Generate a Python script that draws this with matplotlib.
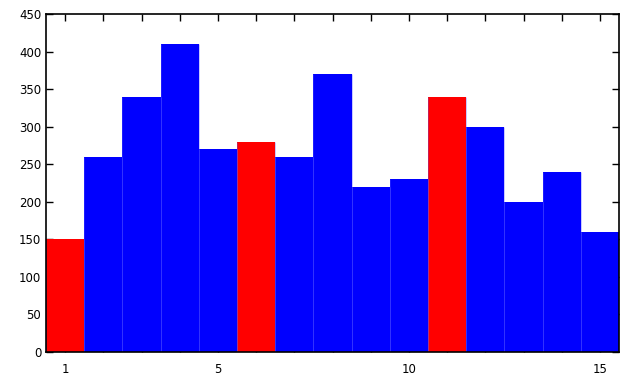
import matplotlib
matplotlib.use("Agg")
import matplotlib.pyplot as plt

categories = list(range(1, 16))
values = [150, 260, 340, 410, 270, 280, 260, 370, 220, 230, 340, 300, 200, 240, 160]
highlight = [1, 6, 11]
xtick_labels = [1, 5, 10, 15]
yticks = list(range(0, 451, 50))

colors = ["#ff0000" if c in highlight else "#0000ff" for c in categories]

fig = plt.figure(figsize=(6.4, 3.84), dpi=100)
ax = fig.add_axes([46/640, 1 - 352/384, (619-46)/640, (352-14)/384])
ax.set_axisbelow(True)
ax.bar(categories, values, width=1.0, color=colors, edgecolor=colors, linewidth=0)
for c, v in zip(categories, values):
    ax.vlines([c - 0.5, c + 0.5], 0, v, colors="#5a5aff", linewidth=0.4, alpha=0.6)
ax.set_xlim(0.5, 15.5)
ax.set_ylim(0, 450)
ax.set_yticks(yticks)
ax.set_xticks(categories)
ax.set_xticklabels([str(c) if c in xtick_labels else "" for c in categories])
ax.tick_params(axis="both", direction="in", length=5, width=1, top=True, right=True,
               labelsize=8.5, colors="black")
ax.tick_params(axis="x", pad=8)
for s in ax.spines.values():
    s.set_linewidth(1.2)
fig.savefig("out.png", dpi=100)
